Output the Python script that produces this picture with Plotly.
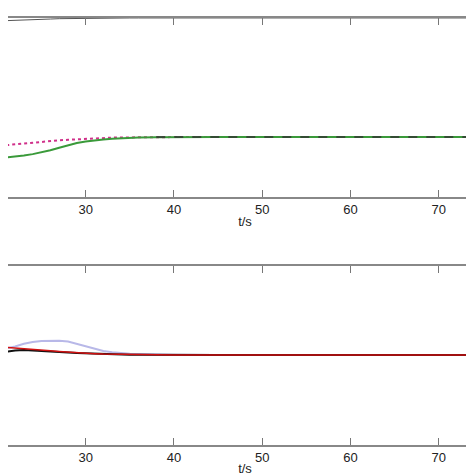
import plotly.graph_objects as go
from plotly.subplots import make_subplots

t = [21, 22, 23, 24, 25, 26, 27, 28, 29, 30, 31, 32, 33, 34, 35, 36, 38, 40, 45, 50, 60, 70, 76]
# top panel
top_black = [0.985, 0.986, 0.988, 0.99, 0.992, 0.994, 0.996, 0.997, 0.998, 0.999, 1.0, 1.0, 1.0, 1.0, 1.0, 1.0, 1.0, 1.0, 1.0, 1.0, 1.0, 1.0, 1.0]
top_magenta = [0.29, 0.295, 0.3, 0.305, 0.309, 0.313, 0.317, 0.32, 0.323, 0.326, 0.328, 0.33, 0.332, 0.333, 0.334, 0.335, 0.335, 0.335, 0.335, 0.335, 0.335, 0.335, 0.335]
top_green = [0.222, 0.226, 0.232, 0.24, 0.25, 0.262, 0.276, 0.29, 0.302, 0.31, 0.317, 0.322, 0.326, 0.329, 0.331, 0.333, 0.334, 0.335, 0.335, 0.335, 0.335, 0.335, 0.335]
top_dash = [None]*16 + [0.335, 0.335, 0.335, 0.335, 0.335, 0.335, 0.335]
# bottom panel
bot_blue = [0.54, 0.55, 0.565, 0.575, 0.58, 0.582, 0.582, 0.578, 0.565, 0.548, 0.535, 0.525, 0.518, 0.513, 0.51, 0.508, 0.505, 0.504, 0.503, 0.503, 0.503, 0.503, 0.503]
bot_red = [0.545, 0.542, 0.538, 0.534, 0.53, 0.526, 0.522, 0.518, 0.515, 0.512, 0.51, 0.508, 0.507, 0.506, 0.505, 0.504, 0.503, 0.503, 0.503, 0.503, 0.503, 0.503, 0.503]
bot_black = [0.52, 0.528, 0.53, 0.528, 0.525, 0.522, 0.519, 0.516, 0.513, 0.511, 0.509, 0.507, 0.506, 0.505, 0.504, 0.504, 0.503, 0.503, 0.503, 0.503, 0.503, 0.503, 0.503]

xticks = [30, 40, 50, 60, 70]

fig = make_subplots(rows=2, cols=1, vertical_spacing=0.1)
fig.add_trace(go.Scatter(x=t, y=top_black, mode="lines", line=dict(color="#555555", width=1)), 1, 1)
fig.add_trace(go.Scatter(x=t, y=top_magenta, mode="lines", line=dict(color="#d0308a", width=2, dash="dot")), 1, 1)
fig.add_trace(go.Scatter(x=t, y=top_green, mode="lines", line=dict(color="#3a9a3a", width=2)), 1, 1)
fig.add_trace(go.Scatter(x=t, y=top_dash, mode="lines", line=dict(color="#333333", width=1.5, dash="dash")), 1, 1)
fig.add_trace(go.Scatter(x=t, y=bot_blue, mode="lines", line=dict(color="#b8b8e8", width=2)), 2, 1)
fig.add_trace(go.Scatter(x=t, y=bot_black, mode="lines", line=dict(color="#111111", width=2)), 2, 1)
fig.add_trace(go.Scatter(x=t, y=bot_red, mode="lines", line=dict(color="#d01010", width=1.5)), 2, 1)

ax = dict(range=[21.2, 74.9], tickvals=xticks, ticks="inside", ticklen=7, tickcolor="#777",
          showline=True, linecolor="#888", linewidth=1.5, mirror="ticks", showgrid=False, zeroline=False,
          automargin=False,
          tickfont=dict(size=13, color="#222", family="Liberation Sans"),
          title=dict(text="t/s", font=dict(size=13, color="#222", family="Liberation Sans"), standoff=0))
fig.update_xaxes(**ax)
fig.update_yaxes(range=[0, 1.0], visible=False, automargin=False)
fig.update_layout(width=474, height=474, margin=dict(l=0, r=0, t=0, b=0), showlegend=False,
                  plot_bgcolor="white", paper_bgcolor="white",
                  xaxis=dict(domain=[0, 1]), xaxis2=dict(domain=[0, 1]),
                  yaxis=dict(domain=[0.601, 0.979]), yaxis2=dict(domain=[0.078, 0.456]))
fig.write_html("out.html")
